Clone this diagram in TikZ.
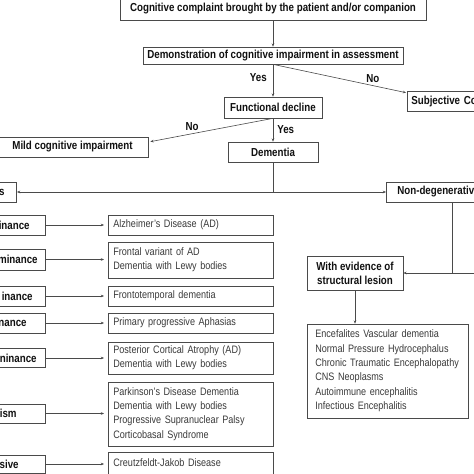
\documentclass[tikz,border=0pt]{standalone}
\usepackage{fontspec}
\setmainfont{Liberation Sans}[FakeStretch=0.84]
\usetikzlibrary{arrows.meta,calc}
\definecolor{edge}{HTML}{4A4A4A}
\definecolor{txt}{HTML}{111111}
\definecolor{ltxt}{HTML}{3A3A3A}
\tikzset{
  bfont/.style={font=\fontsize{11.6}{13}\selectfont\bfseries},
  box/.style={draw=edge, line width=0.7pt, inner sep=0pt, text=txt, bfont},
  lbox/.style={draw=edge, line width=0.7pt, inner ysep=0pt, inner xsep=5pt, anchor=west, text width=155pt, align=left, text=ltxt, font=\fontsize{10.8}{14.4}\selectfont},
  cutbox/.style={draw=edge, line width=0.7pt, inner ysep=0pt, anchor=east, text width=70pt, align=right, minimum height=20pt, text=txt, bfont},
  conn/.style={draw=edge, line width=0.6pt},
  arr/.style={conn, -{Stealth[length=3.2pt,width=2.6pt]}},
  lab/.style={text=txt, bfont, inner sep=0pt}
}
\begin{document}
\begin{tikzpicture}[x=1pt,y=-1pt]
\useasboundingbox (0,0) rectangle (474,474);
\clip (0,0) rectangle (474,474);
\fill[white] (0,0) rectangle (474,474);

% top part
\node[box, minimum width=306pt, minimum height=22pt] (top) at (273,9) {Cognitive complaint brought by the patient and/or companion};
\node[box, minimum width=260pt, minimum height=17pt] (demo) at (273,55.5) {Demonstration of cognitive impairment in assessment};
\node[box, minimum width=98pt, minimum height=21pt] (func) at (273,107.5) {Functional decline};
\node[box, anchor=west, text width=105pt, align=left, inner xsep=4pt, minimum height=20pt] (subj) at (407,101) {Subjective Co};
\node[box, minimum width=151pt, minimum height=20pt] (mci) at (72.5,147) {Mild cognitive impairment};
\node[box, minimum width=90pt, minimum height=20pt] (dem) at (273,152) {Dementia};

\draw[arr] (top.south) -- (demo.north);
\draw[arr] (demo.south) -- node[lab, left=6pt, pos=0.42] {Yes} (func.north);
\draw[arr] (demo.south) -- node[lab, above=3pt, pos=0.75] {No} ($(subj.north west)+(-1,2)$);
\draw[arr] (func.south) -- node[lab, above=3pt, pos=0.66] {No} ($(mci.north east)+(2,5)$);
\draw[arr] (func.south) -- node[lab, right=4pt, pos=0.5] {Yes} (dem.north);

% second split
\node[cutbox, text width=60pt, inner xsep=12pt] (degen) at (17,192) {s};
\node[box, anchor=west, text width=110pt, align=left, inner xsep=11pt, minimum height=20pt] (nondeg) at (386,192) {Non-degenerativ};
\coordinate (fork) at (273,192);
\draw[conn] (dem.south) -- (fork);
\draw[arr] (fork) -- (degen.east);
\draw[arr] (fork) -- (nondeg.west);

\node[box, minimum width=96pt, minimum height=34pt, align=center, font=\fontsize{11.6}{14}\selectfont\bfseries] (evid) at (355,273) {With evidence of\\structural lesion};
\coordinate (offR) at (480,273);
\draw[arr] (nondeg.south) |- (evid.east);
\draw[conn] (offR) -- (nondeg.south |- offR);

\node[lbox, minimum height=94pt, text width=145pt, inner xsep=8pt] (list) at (307,371) {Encefalites Vascular dementia\\Normal Pressure Hydrocephalus\\Chronic Traumatic Encephalopathy\\CNS Neoplasms\\Autoimmune encephalitis\\Infectious Encephalitis};
\draw[arr] (evid.south) -- (evid.south |- list.north);

% left column
\node[cutbox, inner xsep=16pt] (l1) at (46,225) {inance};
\node[cutbox, inner xsep=8pt, minimum height=21pt] (l2) at (46,259.5) {minance};
\node[cutbox, inner xsep=13pt] (l3) at (46,296) {inance};
\node[cutbox, inner xsep=19pt] (l4) at (46,323) {nance};
\node[cutbox, inner xsep=9pt, minimum height=19pt] (l5) at (46,358) {ninance};
\node[cutbox, inner xsep=29pt, minimum height=19pt] (l6) at (46,413.5) {ism};
\node[cutbox, inner xsep=27pt, minimum height=18pt] (l7) at (46,464) {sive};

\node[lbox, minimum height=20pt] (r1) at (108,225) {Alzheimer's Disease (AD)};
\node[lbox, minimum height=36pt] (r2) at (108,260) {Frontal variant of AD\\Dementia with Lewy bodies};
\node[lbox, minimum height=20pt] (r3) at (108,296) {Frontotemporal dementia};
\node[lbox, minimum height=20pt] (r4) at (108,323) {Primary progressive Aphasias};
\node[lbox, minimum height=32pt] (r5) at (108,358) {Posterior Cortical Atrophy (AD)\\Dementia with Lewy bodies};
\node[lbox, minimum height=64pt] (r6) at (108,414) {Parkinson's Disease Dementia\\Dementia with Lewy bodies\\Progressive Supranuclear Palsy\\Corticobasal Syndrome};
\node[lbox, minimum height=22pt] (r7) at (108,463) {Creutzfeldt-Jakob Disease};

\foreach \i in {1,...,7} {
  \draw[arr] (l\i.east) -- ($(l\i.east -| r\i.west)+(-4,0)$);
}
\end{tikzpicture}
\end{document}
